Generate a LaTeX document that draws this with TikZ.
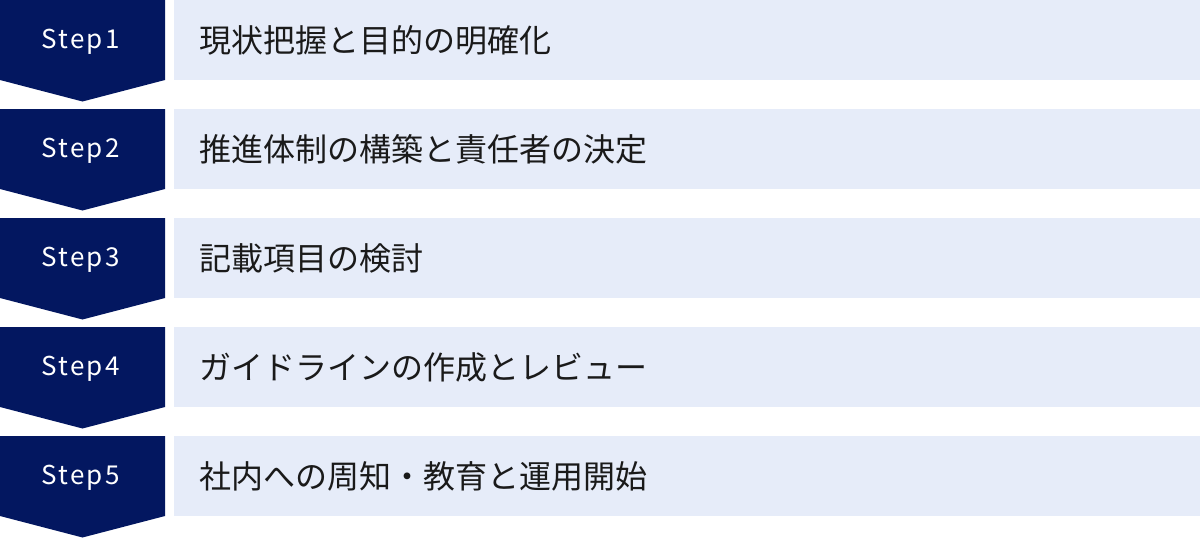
\documentclass[tikz,border=0pt]{standalone}
\usepackage{fontspec}
\setmainfont{Noto Sans CJK JP}
\newfontfamily\stepfont[LetterSpace=9]{Noto Sans CJK JP}
\definecolor{navy}{HTML}{031760}
\definecolor{paleblue}{HTML}{E6ECF9}
\definecolor{txt}{HTML}{1A1A1A}
\tikzset{
  steplabel/.style={text=white, font=\stepfont\fontsize{26pt}{26pt}\selectfont, anchor=base west, inner sep=0pt},
  itemlabel/.style={text=txt, font=\fontsize{32pt}{32pt}\selectfont, anchor=base west, inner sep=0pt},
  chevron/.style={fill=navy, draw=none},
  itembox/.style={fill=paleblue, draw=none}
}
\begin{document}
\begin{tikzpicture}[x=1pt,y=-1pt]
\useasboundingbox (0,0) rectangle (1200,538);
\foreach \i/\txt in {1/現状把握と目的の明確化, 2/推進体制の構築と責任者の決定, 3/記載項目の検討, 4/ガイドラインの作成とレビュー, 5/社内への周知・教育と運用開始} {
  \pgfmathsetmacro{\t}{109*(\i-1)}
  \fill[chevron] (0,\t) -- (165,\t) -- (165,\t+80) -- (82.5,\t+101.5) -- (0,\t+80) -- cycle;
  \fill[itembox] (174,\t) rectangle (1200,\t+80);
  \node[steplabel] (step\i) at (41,\t+48.5) {Step\i};
  \node[itemlabel] (item\i) at (199,\t+52.5) {\txt};
}
\end{tikzpicture}
\end{document}
